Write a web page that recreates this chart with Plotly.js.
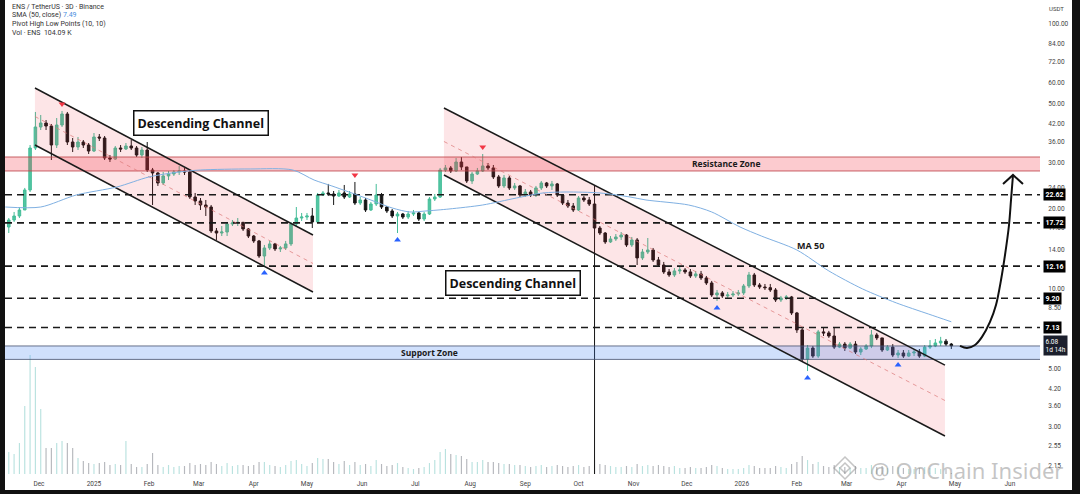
<!DOCTYPE html>
<html><head><meta charset="utf-8">
<script src="https://cdn.plot.ly/plotly-3.0.1.min.js"></script>
<style>html,body{margin:0;padding:0;background:#fff;}#chart{width:1080px;height:494px;}</style>
</head><body><div id="chart"></div>
<script>
// ---- data (ENS / TetherUS, 3D bars, Binance) ----
const firstBarUTC = Date.UTC(2024, 10, 14);   // first 3D bar
const barStepDays = 3;
const firstOpen = 17.09;
const closes = [
18.17,18.81,19.82,23.59,33.99,40.81,42.25,41.16,34.89,41.52,
45.70,35.81,34.29,35.81,34.89,33.11,37.41,37.08,31.16,30.89,
33.99,33.70,34.59,33.99,31.98,33.40,28.07,27.35,25.07,26.65,
27.11,27.59,27.83,27.59,22.19,21.43,20.70,20.34,16.51,16.22,
16.36,17.55,17.70,17.80,16.80,15.80,15.14,13.28,14.24,14.75,
14.12,14.24,14.75,17.55,18.48,18.64,18.81,17.86,22.58,22.98,
22.78,22.38,22.98,22.19,22.78,21.06,21.62,19.82,20.88,22.58,
20.34,19.65,18.81,19.14,18.64,19.14,19.31,18.32,19.14,21.81,
22.19,28.07,28.57,27.83,30.09,28.82,25.51,27.11,27.83,29.07,
28.57,26.42,24.43,26.19,24.01,24.43,22.58,23.18,22.58,24.01,
25.07,24.43,24.86,22.58,21.06,20.52,19.82,22.00,21.62,20.88,
16.94,16.22,15.01,15.40,15.67,15.94,14.62,15.27,13.06,13.75,
13.99,12.83,12.28,11.56,11.26,11.66,11.76,11.56,11.16,11.36,
10.97,10.50,9.46,9.63,9.38,9.46,9.54,9.63,10.23,11.26,
10.32,10.14,10.08,9.88,9.06,9.22,9.30,8.09,6.98,5.42,
5.96,5.56,6.86,6.80,6.62,6.01,6.17,5.96,6.17,5.76,
5.91,6.07,6.68,6.51,5.86,6.01,5.61,5.71,5.56,5.71,
5.76,5.56,6.01,6.07,6.23,6.33,6.17,6.08];
const highs = [
18.48,19.48,20.34,24.01,34.89,46.51,45.30,43.37,41.89,44.13,
46.91,46.51,37.08,37.41,36.44,35.50,38.73,38.39,37.73,31.98,
34.59,34.89,35.50,36.44,34.59,34.29,35.81,28.57,27.59,27.59,
27.83,28.07,29.07,28.57,28.07,22.98,22.00,21.62,20.70,16.94,
17.24,17.86,18.17,18.48,17.86,16.94,15.94,15.27,14.62,15.14,
14.88,14.49,15.14,17.86,20.34,19.31,19.31,20.17,22.98,23.38,
24.86,23.38,23.59,24.64,23.38,25.29,22.19,22.00,21.25,24.86,
22.98,20.52,19.99,19.48,19.31,19.65,19.82,19.48,19.48,22.19,
22.78,28.57,29.32,29.07,31.16,31.43,28.82,27.59,28.57,32.26,
29.83,29.32,26.88,26.88,26.65,25.07,24.64,23.79,23.59,24.43,
25.51,25.29,25.51,25.07,22.78,21.62,21.06,22.38,22.38,22.19,
24.64,17.24,16.36,15.80,16.08,16.36,16.08,15.67,15.53,14.12,
15.53,14.24,13.17,12.61,11.86,11.96,12.07,11.96,11.86,11.66,
11.66,11.16,10.69,9.88,9.79,9.71,9.79,9.88,10.41,11.56,
11.46,10.50,10.41,10.41,10.05,9.38,9.46,9.38,8.16,7.10,
6.12,6.07,6.98,7.10,6.92,7.16,6.28,6.28,6.28,6.33,
6.01,6.17,6.98,6.80,6.51,6.12,6.17,5.86,5.86,5.86,
5.91,5.91,6.12,6.39,6.45,6.57,6.45,6.23];
const lows = [
16.22,17.86,18.48,19.82,23.18,33.40,39.75,39.75,30.62,33.99,
40.81,34.89,32.82,33.40,33.99,32.26,32.82,36.12,30.62,30.09,
30.62,32.82,33.40,33.40,31.43,31.16,27.59,20.70,24.43,24.64,
25.73,26.65,26.88,26.88,21.81,20.70,19.82,18.81,16.22,15.27,
15.80,15.80,17.24,17.24,16.51,15.53,14.88,13.06,12.17,13.99,
13.87,13.75,13.99,14.49,17.24,18.01,18.17,16.94,17.70,22.38,
22.38,20.70,22.19,21.81,22.00,20.70,20.70,19.48,19.65,20.52,
19.99,19.31,18.48,16.22,18.32,18.32,18.81,18.01,18.01,18.97,
21.43,22.00,27.59,27.35,27.59,28.07,25.07,24.86,26.88,27.59,
28.07,25.96,24.01,24.01,23.59,23.59,22.19,22.19,22.19,22.19,
23.59,24.01,23.59,22.19,20.70,20.17,19.48,19.65,21.25,20.52,
1.5,15.94,14.75,14.88,15.14,15.27,14.37,14.37,12.28,12.83,
13.51,12.61,12.07,11.36,11.07,11.07,11.36,11.36,10.97,10.97,
10.78,10.32,9.30,8.98,9.22,9.22,9.30,9.38,9.46,10.05,
10.14,9.97,9.88,9.71,8.90,8.90,9.06,7.95,6.80,5.28,
4.88,5.47,5.47,6.62,6.51,5.91,5.96,5.81,5.91,5.66,
5.61,5.86,5.96,6.39,5.76,5.81,5.51,5.47,5.47,5.51,
5.56,5.47,5.51,5.91,6.01,6.07,6.07,5.91];
const volumesK = [
2200,2000,3100,6800,11900,10700,6500,2600,2600,3100,
3300,3100,2600,1600,1300,1100,1000,1100,1200,900,
1000,900,3300,1000,700,700,1000,2100,900,700,
900,700,800,800,1100,900,1000,900,1200,1000,
800,1100,800,900,900,800,900,1200,1200,900,
800,700,900,1300,1400,1000,800,1100,1600,1500,
1500,1200,1000,1300,900,1200,900,1000,800,1400,
1000,800,900,1100,700,600,500,600,700,1100,
1400,2200,2500,2000,1900,1800,1500,1200,1200,1400,
1200,1200,1100,1000,1000,900,900,800,700,800,
900,700,800,900,800,700,800,900,700,800,
1400,1000,900,800,700,700,800,700,1000,800,
900,800,900,800,700,800,600,600,700,600,
600,700,900,800,600,500,500,500,600,900,
800,600,600,600,800,700,600,1000,1200,1800,
1400,1000,1200,800,700,900,700,700,600,800,
600,600,900,700,800,600,800,700,600,500,
500,600,700,600,600,500,500,104.09];
const maDates = ['2024-11-12','2024-12-02','2024-12-22','2025-01-14','2025-02-01','2025-02-18','2025-03-02','2025-03-30','2025-04-23','2025-05-05','2025-05-15','2025-06-03','2025-06-18','2025-06-28','2025-07-07','2025-07-20','2025-08-08','2025-08-27','2025-09-11','2025-09-24','2025-10-13','2025-10-30','2025-11-08','2025-12-02','2025-12-15','2025-12-31','2026-01-12','2026-02-01','2026-02-19','2026-03-10','2026-03-29','2026-04-16','2026-04-29'];
const maValues = [20.34,20.34,22.58,24.22,26.42,27.59,28.07,28.32,28.07,25.73,24.43,22.00,20.17,19.48,19.65,19.99,20.70,22.00,22.98,23.18,22.98,22.19,21.62,20.70,19.48,17.09,15.80,13.99,11.66,9.97,8.83,8.02,7.49];
const pivotHighIdx = [10,65,89];
const pivotLowIdx = [48,73,133,150,167];
const levels = [22.62,17.72,12.16,9.20,7.13];
const lastPrice = 6.08;
const resistanceZone = [27.83,31.43];
const supportZone = [5.40,6.07];
const channel1 = {start:'2024-11-28 18:00', end:'2025-05-04 09:00', upper:[57.3,15.94], lower:[34.89,9.71]};
const channel2 = {start:'2025-07-17 04:00', end:'2026-04-25 10:00', upper:[48.14,5.14], lower:[26.88,2.773]};
const arrowDates = ['2026-05-03 21:00','2026-05-07 20:00','2026-05-12 08:00','2026-05-16 07:00','2026-05-20 19:00','2026-05-24 04:00','2026-05-27 00:00','2026-05-29 06:00','2026-05-31 12:00','2026-06-01 15:00','2026-06-02 18:00'];
const arrowPrices = [6.07,5.96,6.12,6.57,7.48,8.67,10.78,13.40,17.39,21.62,26.88];
const headDates = ['2026-05-28 03:00','2026-06-02 18:00','2026-06-08 09:00'];
const headPrices = [24.85,26.88,24.85];
const xRange = ['2024-11-11 21:00','2026-06-17 23:00'];
const monthTicks = ['2024-12-01','2025-01-01','2025-02-01','2025-03-01','2025-04-01','2025-05-01','2025-06-01','2025-07-01','2025-08-01','2025-09-01','2025-10-01','2025-11-01','2025-12-01','2026-01-01','2026-02-01','2026-03-01','2026-04-01','2026-05-01','2026-06-01'];
const monthLabels = ['Dec','2025','Feb','Mar','Apr','May','Jun','Jul','Aug','Sep','Oct','Nov','Dec','2026','Feb','Mar','Apr','May','Jun'];
const priceTicks = [100,84,72,60,50,42,36,30,24,20,17,14,10,8.5,5,4.2,3.6,3,2.55,2.15];

// ---- build ----
const dates = closes.map((_, i) => new Date(firstBarUTC + i*barStepDays*86400000).toISOString().slice(0,10));
const opens = closes.map((c, i) => i === 0 ? firstOpen : closes[i-1]);
const volColors = closes.map((c, i) => c >= opens[i] ? 'rgba(38,166,154,0.32)' : 'rgba(110,114,124,0.5)');

const traces = [];
traces.push({type:'bar', x:dates, y:volumesK, yaxis:'y', marker:{color:volColors, line:{width:0}}, width:0.65*86400000, hoverinfo:'skip', showlegend:false});

function poly(xs, ys, fill) {
  return {type:'scatter', mode:'lines', x:xs, y:ys, yaxis:'y2', fill:'toself', fillcolor:fill, line:{width:0}, hoverinfo:'skip', showlegend:false};
}
function seg(xs, ys, color, width, dash) {
  return {type:'scatter', mode:'lines', x:xs, y:ys, yaxis:'y2', line:{color:color, width:width, dash:dash||'solid'}, hoverinfo:'skip', showlegend:false};
}
[channel1, channel2].forEach(ch => {
  traces.push(poly([ch.start, ch.end, ch.end, ch.start, ch.start], [ch.upper[0], ch.upper[1], ch.lower[1], ch.lower[0], ch.upper[0]], 'rgba(242,54,69,0.13)'));
});
traces.push(poly([xRange[0], xRange[1], xRange[1], xRange[0], xRange[0]], [resistanceZone[0], resistanceZone[0], resistanceZone[1], resistanceZone[1], resistanceZone[0]], 'rgba(242,54,69,0.26)'));
traces.push(poly([xRange[0], xRange[1], xRange[1], xRange[0], xRange[0]], [supportZone[0], supportZone[0], supportZone[1], supportZone[1], supportZone[0]], 'rgba(66,133,244,0.25)'));

traces.push({type:'candlestick', x:dates, open:opens, high:highs, low:lows, close:closes, xaxis:'x', yaxis:'y2',
  increasing:{line:{color:'#45bd98', width:1}, fillcolor:'#52c6a3'},
  decreasing:{line:{color:'#151515', width:1}, fillcolor:'#151515'},
  whiskerwidth:0, hoverinfo:'skip', showlegend:false});

resistanceZone.forEach(v => traces.push(seg(xRange, [v, v], 'rgba(190,70,75,0.85)', 1)));
supportZone.forEach(v => traces.push(seg(xRange, [v, v], 'rgba(70,80,110,0.8)', 1)));
levels.forEach(v => traces.push(seg(xRange, [v, v], '#1a1a1a', 1.6, '7px,5px')));

[channel1, channel2].forEach(ch => {
  traces.push(seg([ch.start, ch.end], ch.upper, '#1a1a1a', 1.5));
  traces.push(seg([ch.start, ch.end], ch.lower, '#1a1a1a', 1.5));
  traces.push(seg([ch.start, ch.end], [Math.sqrt(ch.upper[0]*ch.lower[0]), Math.sqrt(ch.upper[1]*ch.lower[1])], 'rgba(220,120,120,0.7)', 1, '4px,4px'));
});

traces.push({type:'scatter', mode:'lines', x:maDates, y:maValues, yaxis:'y2', line:{color:'#7fb0e2', width:1, shape:'spline', smoothing:0.8}, hoverinfo:'skip', showlegend:false});

traces.push({type:'scatter', mode:'markers', x:pivotHighIdx.map(i => dates[i]), y:pivotHighIdx.map(i => highs[i]*1.063), yaxis:'y2', marker:{symbol:'triangle-down', size:6, color:'#f23645'}, hoverinfo:'skip', showlegend:false});
traces.push({type:'scatter', mode:'markers', x:pivotLowIdx.map(i => dates[i]), y:pivotLowIdx.map(i => lows[i]/1.063), yaxis:'y2', marker:{symbol:'triangle-up', size:6, color:'#2962ff'}, hoverinfo:'skip', showlegend:false});

traces.push({type:'scatter', mode:'lines', x:arrowDates, y:arrowPrices, yaxis:'y2', line:{color:'#111', width:2, shape:'spline', smoothing:0.9}, hoverinfo:'skip', showlegend:false});
traces.push(seg(headDates, headPrices, '#111', 2));

// ---- layout helpers ----
const PL = 5, PR = 1040, PT = 0, PB = 474;
const px = x => (x - PL) / (PR - PL);
const py = y => (PB - y) / (PB - PT);

const annotations = [];
const lg = {size:7, color:'#333', family:'Roboto, "Noto Sans", sans-serif'};
[['ENS / TetherUS · 3D · Binance',7],['SMA (50, close) <span style="color:#4a8fe0">7.49</span>',15.5],['Pivot High Low Points (10, 10)',24],['Vol · ENS  104.09 K',32.5]].forEach(([t,y]) => {
  annotations.push({xref:'paper', yref:'paper', x:px(10), y:py(y), xanchor:'left', yanchor:'middle', text:t, showarrow:false, font:lg});
});
annotations.push({xref:'paper', yref:'paper', x:px(1047), y:py(9), xanchor:'left', yanchor:'middle', text:'USDT', showarrow:false, font:{size:6, color:'#444', family:'Roboto, sans-serif'}});

const boxFont = {size:12.5, color:'#111', family:'"Open Sans", sans-serif', weight:700};
annotations.push({xref:'paper', yref:'paper', x:px(201), y:py(123.5), xanchor:'center', yanchor:'middle', text:'Descending Channel', showarrow:false, font:boxFont, bgcolor:'#fff', bordercolor:'#111', borderwidth:1.5, borderpad:3});
annotations.push({xref:'paper', yref:'paper', x:px(513), y:py(282.5), xanchor:'center', yanchor:'middle', text:'Descending Channel', showarrow:false, font:boxFont, bgcolor:'#fff', bordercolor:'#111', borderwidth:1.5, borderpad:3});
const zf = {size:8.5, color:'#1a1a1a', family:'"Open Sans", sans-serif', weight:700};
annotations.push({xref:'paper', yref:'y2', x:px(726), y:Math.log10(Math.sqrt(resistanceZone[0]*resistanceZone[1])), xanchor:'center', yanchor:'middle', text:'Resistance Zone', showarrow:false, font:zf});
annotations.push({xref:'paper', yref:'y2', x:px(429), y:Math.log10(Math.sqrt(supportZone[0]*supportZone[1])), xanchor:'center', yanchor:'middle', text:'Support Zone', showarrow:false, font:zf});
annotations.push({xref:'paper', yref:'paper', x:px(810), y:py(245), xanchor:'center', yanchor:'middle', text:'MA 50', showarrow:false, font:{size:9, color:'#1a1a1a', family:'"Open Sans", sans-serif', weight:700}});

levels.forEach(v => annotations.push({xref:'paper', yref:'y2', x:px(1043), y:Math.log10(v), xanchor:'left', yanchor:'middle', text:v.toFixed(2), showarrow:false, bgcolor:'#000', borderpad:1.5, font:{size:7, color:'#fff', family:'Roboto, sans-serif', weight:700}}));
annotations.push({xref:'paper', yref:'y2', x:px(1043), y:Math.log10(lastPrice), xanchor:'left', yanchor:'middle', text:lastPrice.toFixed(2)+'<br>1d 14h', showarrow:false, bgcolor:'#1b1f2c', borderpad:1.5, align:'left', font:{size:6.5, color:'#fff', family:'Roboto, sans-serif'}});

annotations.push({xref:'paper', yref:'paper', x:px(966), y:py(470), xanchor:'center', yanchor:'middle', text:'@ OnChain Insider', showarrow:false, font:{size:22, color:'rgba(140,140,140,0.5)', family:'"Noto Sans", sans-serif'}});

const shapes = [];
const dm = (cx, cy, r) => `M ${px(cx)} ${py(cy - r)} L ${px(cx + r)} ${py(cy)} L ${px(cx)} ${py(cy + r)} L ${px(cx - r)} ${py(cy)} Z`;
shapes.push({type:'path', xref:'paper', yref:'paper', path:dm(845,468,11), line:{color:'rgba(140,140,140,0.5)', width:1.5}});
shapes.push({type:'path', xref:'paper', yref:'paper', path:dm(845,468,5), line:{color:'rgba(140,140,140,0.5)', width:1.5}});
// frame strips
shapes.push({type:'rect', xref:'paper', yref:'paper', x0:px(-2), x1:px(5), y0:py(500), y1:py(-5), fillcolor:'#111', line:{width:0}});
shapes.push({type:'rect', xref:'paper', yref:'paper', x0:px(1072), x1:px(1085), y0:py(500), y1:py(-5), fillcolor:'#111', line:{width:0}});
shapes.push({type:'rect', xref:'paper', yref:'paper', x0:px(-2), x1:px(1085), y0:py(500), y1:py(490), fillcolor:'#111', line:{width:0}});

const layout = {
  width:1080, height:494,
  margin:{l:PL, r:1080-PR, t:PT, b:494-PB},
  paper_bgcolor:'#fff', plot_bgcolor:'#fff',
  showlegend:false, dragmode:false, boxgap:0.32,
  xaxis:{type:'date', range:xRange, tickvals:monthTicks, ticktext:monthLabels, showgrid:false, zeroline:false, showline:false,
    ticks:'outside', ticklen:3, tickcolor:'rgba(0,0,0,0)', tickfont:{size:6.5, color:'#444', family:'Roboto, sans-serif'}, rangeslider:{visible:false}, fixedrange:true},
  yaxis:{range:[0, 47400], visible:false, fixedrange:true},
  yaxis2:{type:'log', overlaying:'y', side:'right', anchor:'x', range:[0.2993, 2.0907], tickvals:priceTicks, ticktext:priceTicks.map(v => v.toFixed(2)),
    showgrid:false, zeroline:false, showline:false, ticks:'outside', ticklen:6, tickcolor:'rgba(0,0,0,0)', tickfont:{size:6.5, color:'#444', family:'Roboto, sans-serif'}, fixedrange:true},
  annotations:annotations, shapes:shapes
};
Plotly.newPlot('chart', traces, layout, {displayModeBar:false, staticPlot:true});
</script></body></html>
